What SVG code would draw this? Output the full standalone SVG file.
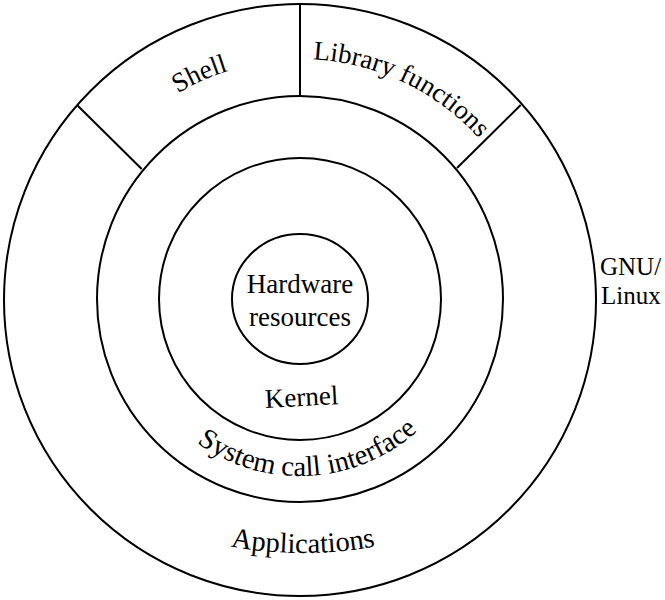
<svg xmlns="http://www.w3.org/2000/svg" width="665" height="600" viewBox="0 0 665 600">
  <style>
    .ring { fill: none; stroke: #000; stroke-width: 2; }
    .div { stroke: #000; stroke-width: 2; }
    .lbl { font-family: "Liberation Serif", "Times New Roman", serif; font-size: 27px; fill: #000; }
    .big { font-size: 28.5px; }
    .sm { font-size: 25px; }
  </style>
  <defs>
    <path id="pShell" d="M105.8,158.9 A240,240 0 0 1 325.1,61.3"/>
    <path id="pLib" d="M258.2,62.7 A241,241 0 0 1 510.8,183.2"/>
    <path id="pSys" d="M138,368.8 A176,176 0 0 0 468.3,351.5"/>
    <path id="pApp" d="M166.2,528.9 A400,400 0 0 0 439.8,528.9"/>
  </defs>
  <rect width="665" height="600" fill="#fff"/>

  <g id="applications">
    <circle class="ring" cx="300" cy="300" r="296"/>
    <text class="lbl big"><textPath href="#pApp" startOffset="50%" text-anchor="middle">Applications</textPath></text>
  </g>

  <g id="system-call-interface">
    <circle class="ring" cx="300" cy="299" r="203"/>
    <text class="lbl big"><textPath href="#pSys" startOffset="50%" text-anchor="middle">System call interface</textPath></text>
  </g>

  <g id="kernel">
    <circle class="ring" cx="300" cy="299" r="141"/>
    <text class="lbl" x="302" y="406" text-anchor="middle" transform="rotate(-3 302 406)">Kernel</text>
  </g>

  <g id="hardware">
    <ellipse class="ring" cx="300" cy="299" rx="68" ry="65"/>
    <text class="lbl" x="300" y="293" text-anchor="middle">Hardware</text>
    <text class="lbl" x="300" y="326" text-anchor="middle">resources</text>
  </g>

  <g id="shell">
    <text class="lbl"><textPath href="#pShell" startOffset="50%" text-anchor="middle">Shell</textPath></text>
  </g>

  <g id="library-functions">
    <text class="lbl"><textPath href="#pLib" startOffset="50%" text-anchor="middle">Library functions</textPath></text>
  </g>

  <g id="gnu-linux">
    <text class="lbl sm" x="600" y="275">GNU/</text>
    <text class="lbl sm" x="601" y="304">Linux</text>
  </g>

  <g id="connectors">
    <line class="div" x1="300" y1="4" x2="300" y2="96"/>
    <line class="div" x1="77" y1="105" x2="141.7" y2="169"/>
    <line class="div" x1="520.7" y1="105" x2="457" y2="168"/>
  </g>
</svg>
